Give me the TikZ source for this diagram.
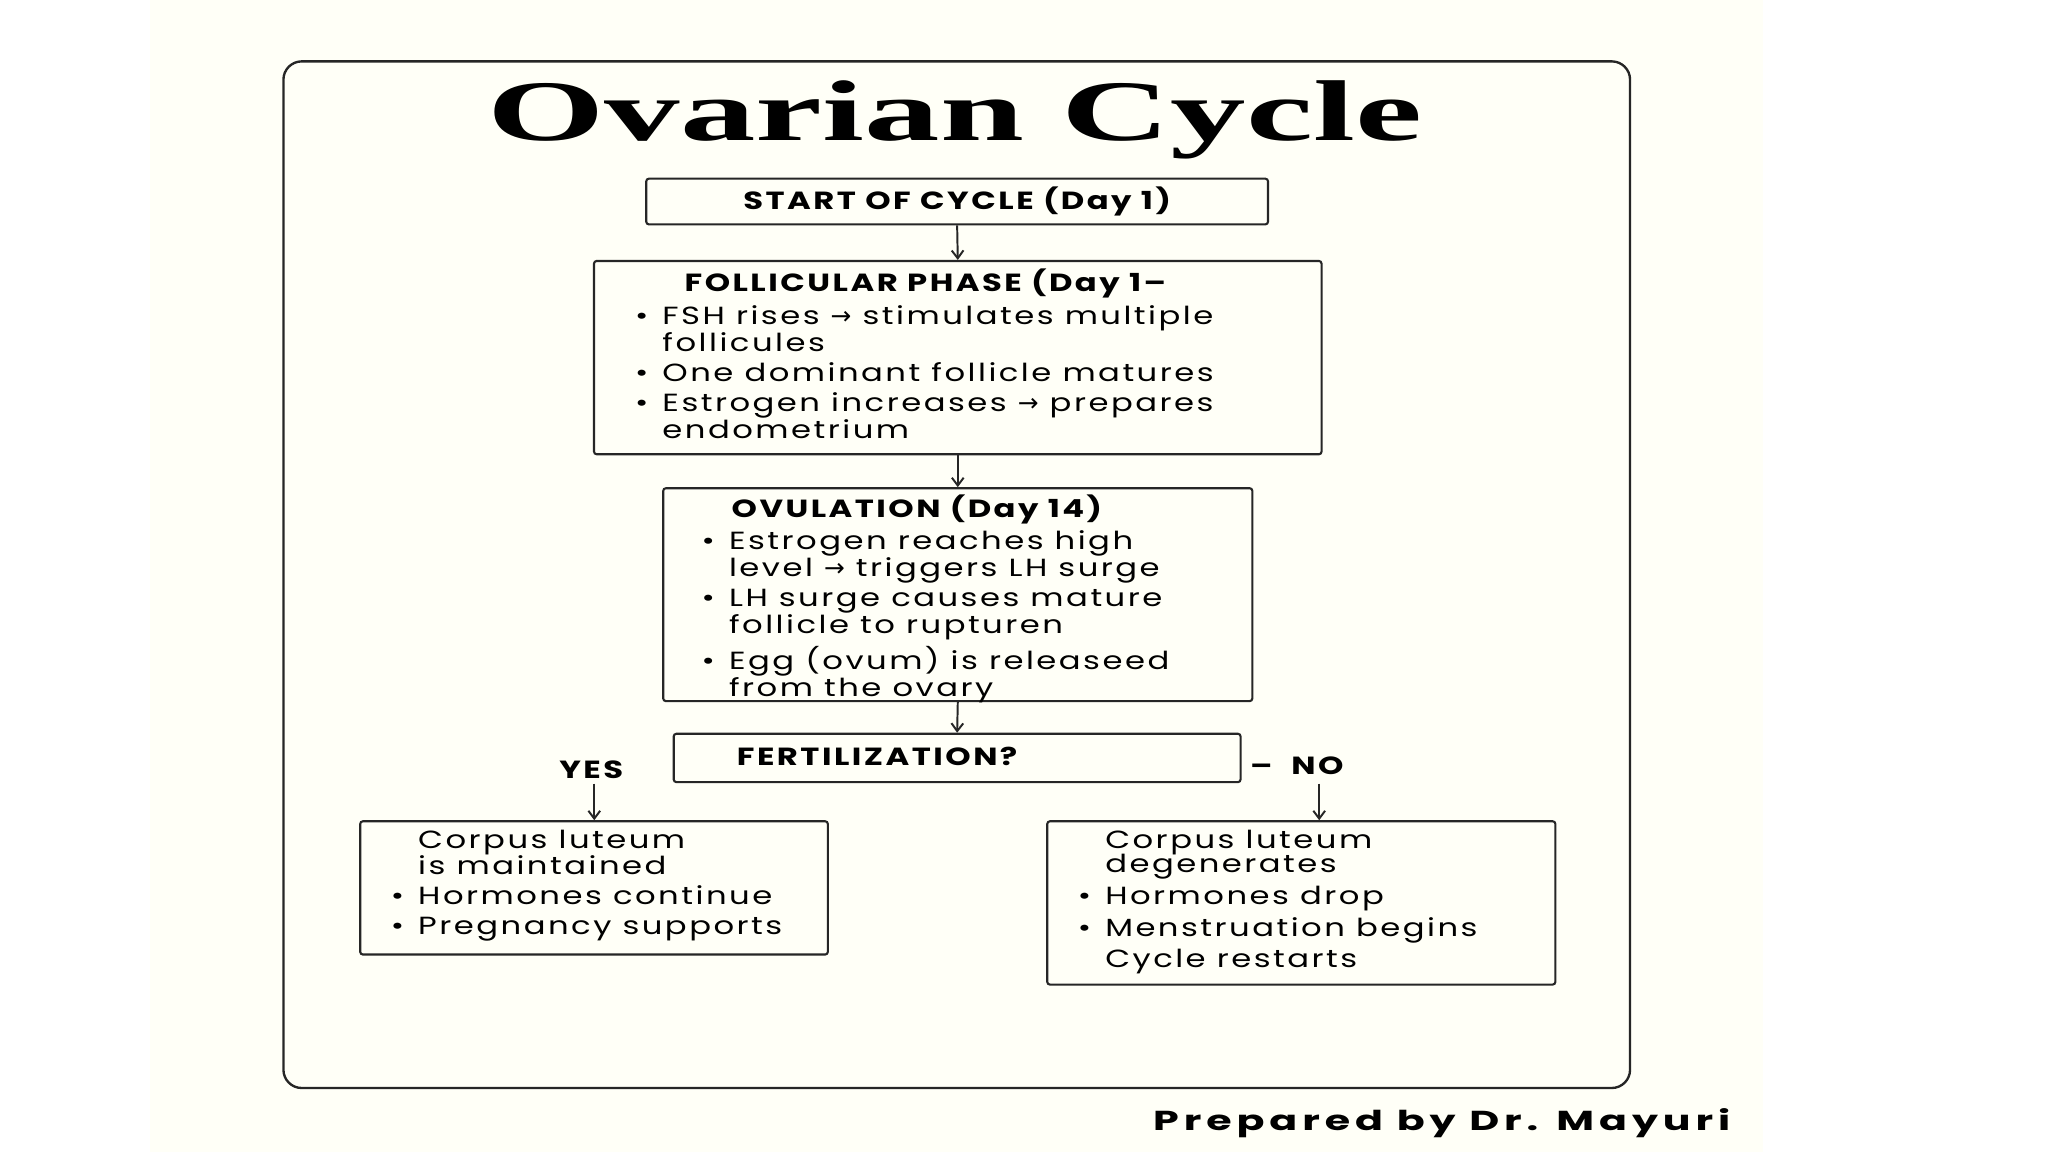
\documentclass[tikz,border=0pt]{standalone}
\usepackage{fontspec}
\setmainfont{Poppins}[LetterSpace=10,FakeStretch=1.3]
\newfontfamily\titlefont{Liberation Serif}[FakeStretch=1.75]
\newfontfamily\arrfont{DejaVu Sans}
\usetikzlibrary{arrows.meta}
\tikzset{
  box/.style={draw=black!85,line width=1.6pt,rounded corners=2pt,anchor=north west,inner sep=0pt},
  txt/.style={anchor=north west,inner sep=0pt,align=left,font=\fontsize{19}{19}\selectfont},
  hd/.style={anchor=west,inner sep=0pt,font=\fontsize{19}{19}\selectfont\bfseries},
  arr/.style={-{Straight Barb[length=6pt,width=9pt]},line width=1.5pt,black!85},
}
\newcommand{\bl}{\makebox[21pt][l]{\textbullet}}
\newcommand{\ra}{{\arrfont\smash{→}}}
\begin{document}
\begin{tikzpicture}[x=1pt,y=-1pt]
\useasboundingbox (0,0) rectangle (1568,882);
\fill[white] (0,0) rectangle (1568,882);
\fill[yellow!3!white] (115,0) rectangle (1350,882);
\draw[line width=1.8pt,rounded corners=14pt,black!85] (217,47) rectangle (1248,833);
\node[inner sep=0pt,font=\titlefont\fontsize{66}{66}\selectfont\bfseries] (title) at (731,92) {Ovarian Cycle};
% boxes
\node[box,minimum width=476pt,minimum height=35pt] (start) at (494,136) {};
\node[hd,anchor=center] at (start.center) {START OF CYCLE (Day 1)};
\node[box,minimum width=557pt,minimum height=148pt] (foll) at (454,199) {};
\node[hd] at (524,217) {FOLLICULAR PHASE (Day 1–};
\node[txt] at (486,234) {\bl FSH rises \ra\ stimulates multiple\\\hspace*{21pt}follicules\\[4pt]\bl One dominant follicle matures\\[4pt]\bl Estrogen increases \ra\ prepares\\\hspace*{21pt}endometrium};
\node[box,minimum width=451pt,minimum height=163pt] (ovu) at (507,373) {};
\node[hd] at (560,390) {OVULATION (Day 14)};
\node[txt] at (537,406) {\bl Estrogen reaches high\\\hspace*{21pt}level \ra\ triggers LH surge\\[4pt]\bl LH surge causes mature\\\hspace*{21pt}follicle to rupturen\\[4pt]\bl Egg (ovum) is releaseed\\\hspace*{21pt}from the ovary};
\node[box,minimum width=434pt,minimum height=37pt] (fert) at (515,561) {};
\node[hd] at (564,579) {FERTILIZATION?};
\node[hd] (yes) at (428,589) {YES};
\node[hd] (no) at (957,586) {–\ \ NO};
\node[box,minimum width=358pt,minimum height=102pt] (left) at (275,628) {};
\node[txt] at (299,635) {\hspace*{21pt}Corpus luteum\\\hspace*{21pt}is maintained\\[4pt]\bl Hormones continue\\[4pt]\bl Pregnancy supports};
\node[box,minimum width=389pt,minimum height=125pt] (right) at (801,628) {};
\node[txt] at (825,635) {\hspace*{21pt}Corpus luteum\\\hspace*{21pt}degenerates\\[4pt]\bl Hormones drop\\[4pt]\bl Menstruation begins\\[4pt]\hspace*{21pt}Cycle restarts};
\coordinate (ya) at (455,600);
\coordinate (na) at (1010,600);
\draw[arr] (start.south) -- (foll.north);
\draw[arr] (foll.south) -- (ovu.north);
\draw[arr] (ovu.south) -- (fert.north);
\draw[arr] (ya) -- (ya |- left.north);
\draw[arr] (na) -- (na |- right.north);
\node[inner sep=0pt,anchor=east,font=\fontsize{21}{21}\selectfont\bfseries\addfontfeatures{LetterSpace=18,FakeStretch=1.5}] (prep) at (1325,860) {Prepared by Dr. Mayuri};
\end{tikzpicture}
\end{document}
